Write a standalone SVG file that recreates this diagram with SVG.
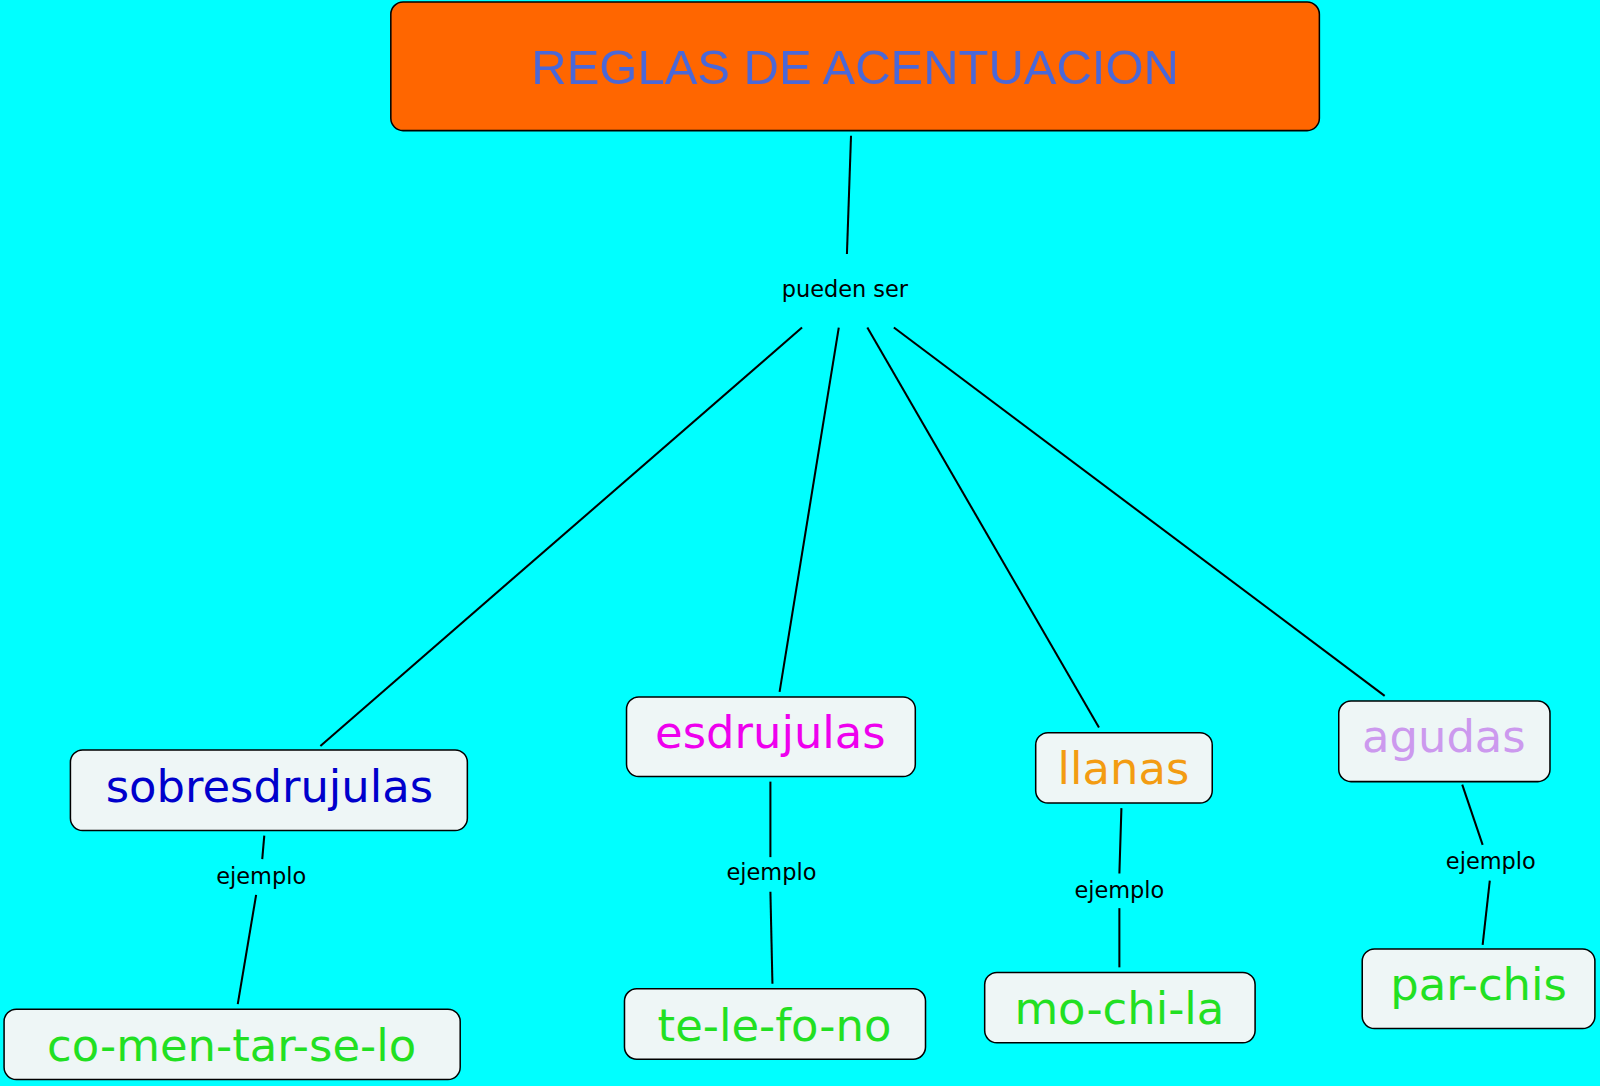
<svg xmlns="http://www.w3.org/2000/svg" width="1600" height="1086" viewBox="0 0 1600 1086">
<style>
.box{fill:#eef6f6;stroke:#000;stroke-width:1.5}
.lbl{font-family:"DejaVu Sans",sans-serif;font-size:22px;text-anchor:middle;fill:#000}
.big{font-family:"DejaVu Sans",sans-serif;font-size:44px;text-anchor:middle}
.g{fill:#22e022}
#conn line{stroke:#000;stroke-width:2}
</style>
<rect width="1600" height="1086" fill="#00ffff"/>
<g transform="scale(1.0204)">
<g id="conn">
<line x1="834" y1="133" x2="830" y2="249"/>
<line x1="786" y1="321" x2="314" y2="731"/>
<line x1="822" y1="321" x2="764" y2="678"/>
<line x1="850" y1="321" x2="1077" y2="713"/>
<line x1="876" y1="321" x2="1357" y2="682"/>
<line x1="259" y1="819" x2="257" y2="842"/>
<line x1="251" y1="877" x2="233" y2="984"/>
<line x1="755" y1="766" x2="755" y2="840"/>
<line x1="755" y1="874" x2="757" y2="964"/>
<line x1="1099" y1="792" x2="1097" y2="856"/>
<line x1="1097" y1="890" x2="1097" y2="948"/>
<line x1="1433" y1="769" x2="1453" y2="828"/>
<line x1="1460" y1="863" x2="1453" y2="926"/>
</g>
<g id="title"><rect x="383" y="2" width="910" height="126" rx="12" fill="#ff6600" stroke="#000" stroke-width="1.5"/>
<text x="838" y="82" font-family="Liberation Sans,sans-serif" font-size="48" text-anchor="middle" fill="#4a68d8">REGLAS DE ACENTUACION</text></g>
<g id="pueden"><text class="lbl" x="828" y="291">pueden ser</text></g>
<g id="sobre"><rect class="box" x="69" y="735" width="389" height="79" rx="12"/><text class="big" x="264" y="786" fill="#0000cc">sobresdrujulas</text></g>
<g id="esdr"><rect class="box" x="614" y="683" width="283" height="78" rx="12"/><text class="big" x="755" y="733" fill="#ee00ee">esdrujulas</text></g>
<g id="llanas"><rect class="box" x="1015" y="718" width="173" height="69" rx="12"/><text class="big" x="1101" y="768" fill="#f39c12">llanas</text></g>
<g id="agudas"><rect class="box" x="1312" y="687" width="207" height="79" rx="12"/><text class="big" x="1415" y="737" fill="#cc99ee">agudas</text></g>
<g id="ej1"><text class="lbl" x="256" y="866">ejemplo</text></g>
<g id="ej2"><text class="lbl" x="756" y="862">ejemplo</text></g>
<g id="ej3"><text class="lbl" x="1097" y="880">ejemplo</text></g>
<g id="ej4"><text class="lbl" x="1461" y="852">ejemplo</text></g>
<g id="ex1"><rect class="box" x="4" y="989" width="447" height="69" rx="12"/><text class="big g" x="227" y="1040">co-men-tar-se-lo</text></g>
<g id="ex2"><rect class="box" x="612" y="969" width="295" height="69" rx="12"/><text class="big g" x="759" y="1020">te-le-fo-no</text></g>
<g id="ex3"><rect class="box" x="965" y="953" width="265" height="69" rx="12"/><text class="big g" x="1097" y="1004">mo-chi-la</text></g>
<g id="ex4"><rect class="box" x="1335" y="930" width="228" height="78" rx="12"/><text class="big g" x="1449" y="980">par-chis</text></g>
</g>
</svg>
